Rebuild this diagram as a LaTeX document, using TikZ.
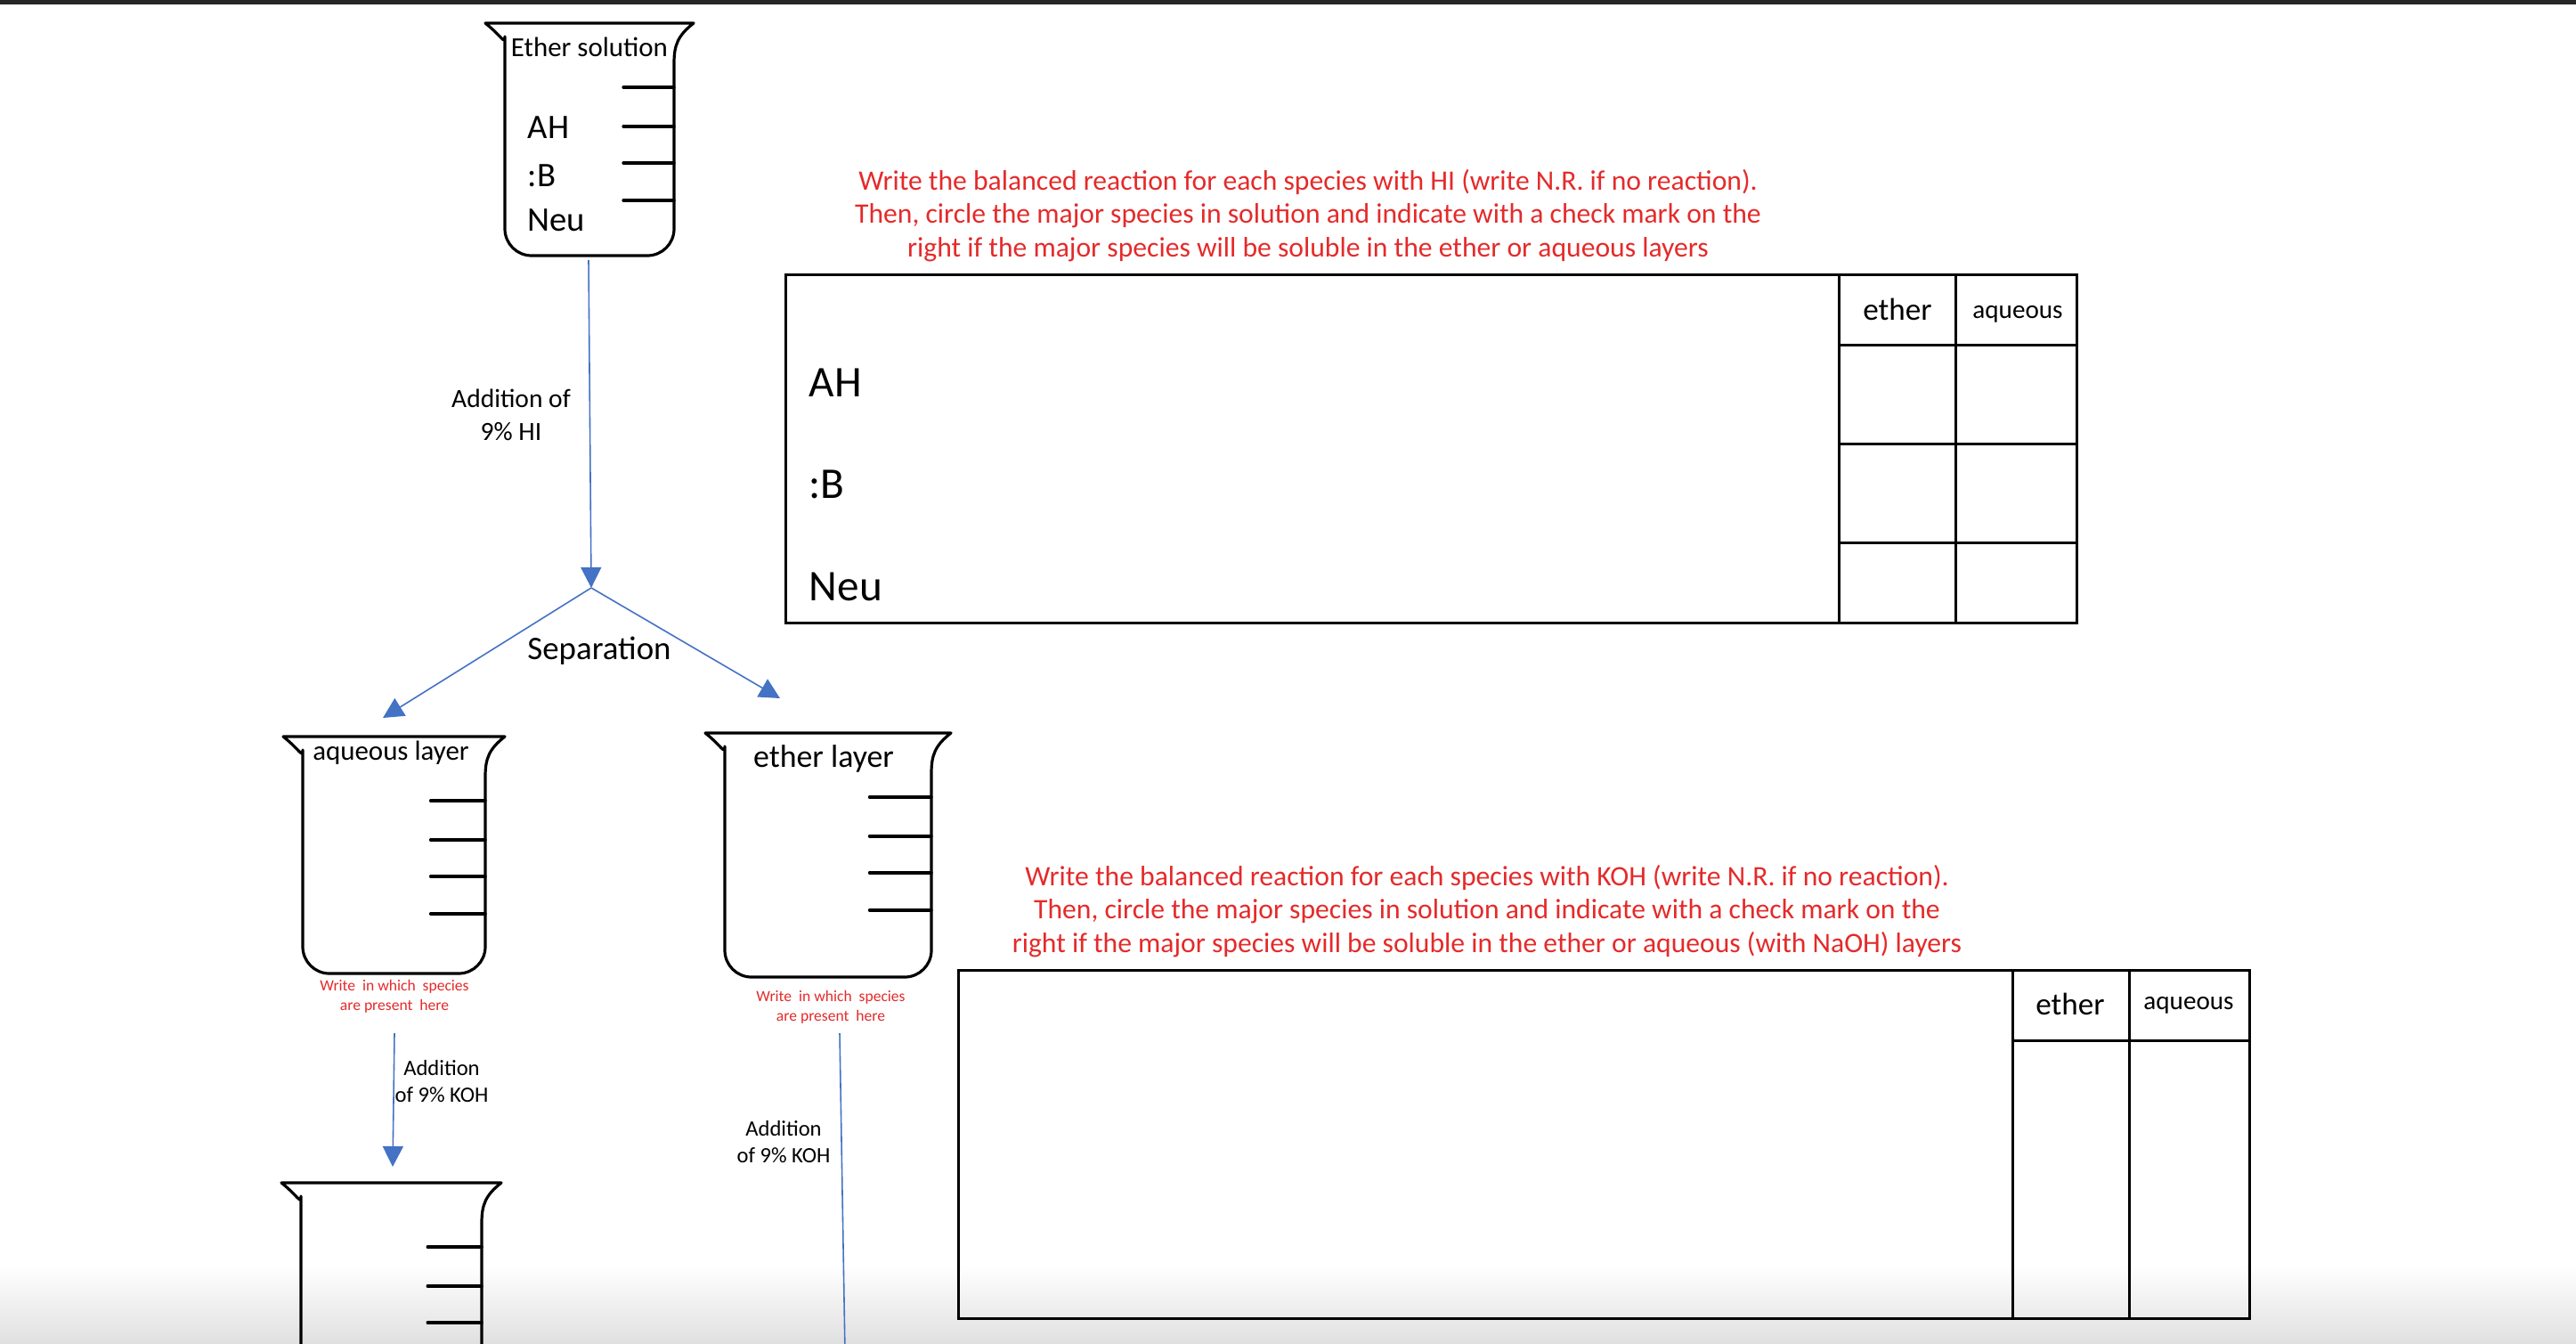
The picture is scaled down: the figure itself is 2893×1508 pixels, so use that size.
\documentclass[tikz,border=0pt]{standalone}
\usepackage{fontspec}
\setmainfont{Carlito}
\usetikzlibrary{arrows.meta}
\definecolor{arrowblue}{RGB}{68,114,196}
\definecolor{notered}{RGB}{228,42,42}
\newcommand{\fs}[2]{\fontsize{#1}{#2}\selectfont}
% beaker: body left, body right, top, bottom
\newcommand{\beaker}[4]{%
  \draw[beakerline] ({#1},{#3+45}) .. controls ({#1},{#3+25}) and ({#1-4},{#3+14}) .. ({#1-22},#3)
    -- ({#2+22},#3) .. controls ({#2+4},{#3+14}) and ({#2},{#3+25}) .. ({#2},{#3+45})
    [rounded corners=3mm] -- (#2,#4) -- (#1,#4) -- cycle;
  \foreach \t in {72,116,157,199}
    \draw[beakerline] ({#2-0.3*(#2-#1)},{#3+\t}) -- (#2,{#3+\t});
}
\begin{document}
\begin{tikzpicture}[x=0.1mm,y=-0.1mm,
    beakerline/.style={line width=0.32mm,line cap=round,line join=round},
    gridline/.style={line width=0.3mm},
    flow/.style={arrowblue,line width=0.16mm,-{Triangle[width=2.3mm,length=2.3mm]}},
    note/.style={notered,align=center,font=\fs{9}{10.7}},
    smallnote/.style={notered,align=center,font=\fs{5}{6.3}},
    label/.style={align=center,inner sep=0pt}]
  \useasboundingbox (0,0) rectangle (2893,1508);
  \clip (0,0) rectangle (2893,1508);
  % screen edges
  \shade[top color=white,bottom color=black!12] (0,1420) rectangle (2893,1508);
  \fill[black!85] (0,0) rectangle (2893,5);

  % beakers
  \beaker{567}{757}{26}{287}
  \beaker{340}{545}{827}{1093}
  \beaker{814}{1046}{823}{1097}
  \beaker{338}{541}{1328}{1640}

  \node[label,font=\fs{8.8}{10}] (soln) at (662,53) {Ether solution};
  \node[label,anchor=west,font=\fs{11}{13}] (solnAH) at (592,143) {AH};
  \node[label,anchor=west,font=\fs{11}{13}] (solnB) at (592,197) {:B};
  \node[label,anchor=west,font=\fs{11}{13}] (solnNeu) at (592,247) {Neu};
  \node[label,font=\fs{8.8}{10}] (aqlayer) at (439,845) {aqueous layer};
  \node[label,font=\fs{10.2}{12}] (etlayer) at (925,852) {ether layer};
  \node[smallnote] (aqnote) at (443,1119) {Write\ \ in which\ \ species\\are present\ \ here};
  \node[smallnote] (etnote) at (933,1131) {Write\ \ in which\ \ species\\are present\ \ here};

  % flow
  \coordinate (solnout) at (661,292);
  \coordinate (split) at (664,660);
  \coordinate (aqin) at (430,806);
  \coordinate (etin) at (876,784);
  \coordinate (aqout) at (443,1160);
  \coordinate (aqnext) at (441,1310);
  \coordinate (etout) at (943,1160);
  \coordinate (etnext) at (949,1520);
  \draw[flow] (solnout) -- (split);
  \draw[flow] (split) -- (aqin);
  \draw[flow] (split) -- (etin);
  \draw[flow] (aqout) -- (aqnext);
  \draw[arrowblue,line width=0.16mm] (etout) -- (etnext);
  \node[label,font=\fs{8.4}{10.5}] (addHI) at (574,466) {Addition of\\9\% HI};
  \node[label,font=\fs{10.5}{12}] (sep) at (673,731) {Separation};
  \node[label,font=\fs{7}{8.3}] (addKOHa) at (496,1214) {Addition\\of 9\% KOH};
  \node[label,font=\fs{7}{8.3}] (addKOHe) at (880,1282) {Addition\\of 9\% KOH};

  % HI table
  \node[note] (noteHI) at (1469,242) {Write the balanced reaction for each species with HI (write N.R. if no reaction).\\
    Then, circle the major species in solution and indicate with a check mark on the\\
    right if the major species will be soluble in the ether or aqueous layers};
  \draw[gridline] (882,308) rectangle (2332,699);
  \draw[gridline] (2065,308) -- (2065,699) (2196,308) -- (2196,699);
  \foreach \y in {387,498,609}
    \draw[gridline] (2065,\y) -- (2332,\y);
  \node[label,font=\fs{10}{12}] (hiether) at (2131,347) {ether};
  \node[label,font=\fs{8.3}{10}] (hiaq) at (2266,353) {aqueous};
  \node[label,anchor=west,font=\fs{14}{16}] (rowAH) at (908,430) {AH};
  \node[label,anchor=west,font=\fs{14}{16}] (rowB) at (908,544) {:B};
  \node[label,anchor=west,font=\fs{14}{16}] (rowNeu) at (908,659) {Neu};

  % KOH table
  \node[note] (noteKOH) at (1670,1023) {Write the balanced reaction for each species with KOH (write N.R. if no reaction).\\
    Then, circle the major species in solution and indicate with a check mark on the\\
    right if the major species will be soluble in the ether or aqueous (with NaOH) layers};
  \draw[gridline] (1076,1089) rectangle (2526,1480);
  \draw[gridline] (2260,1089) -- (2260,1480) (2391,1089) -- (2391,1480);
  \draw[gridline] (2260,1168) -- (2526,1168);
  \node[label,font=\fs{10}{12}] (kohether) at (2325,1127) {ether};
  \node[label,font=\fs{8.3}{10}] (kohaq) at (2458,1129) {aqueous};
\end{tikzpicture}
\end{document}
